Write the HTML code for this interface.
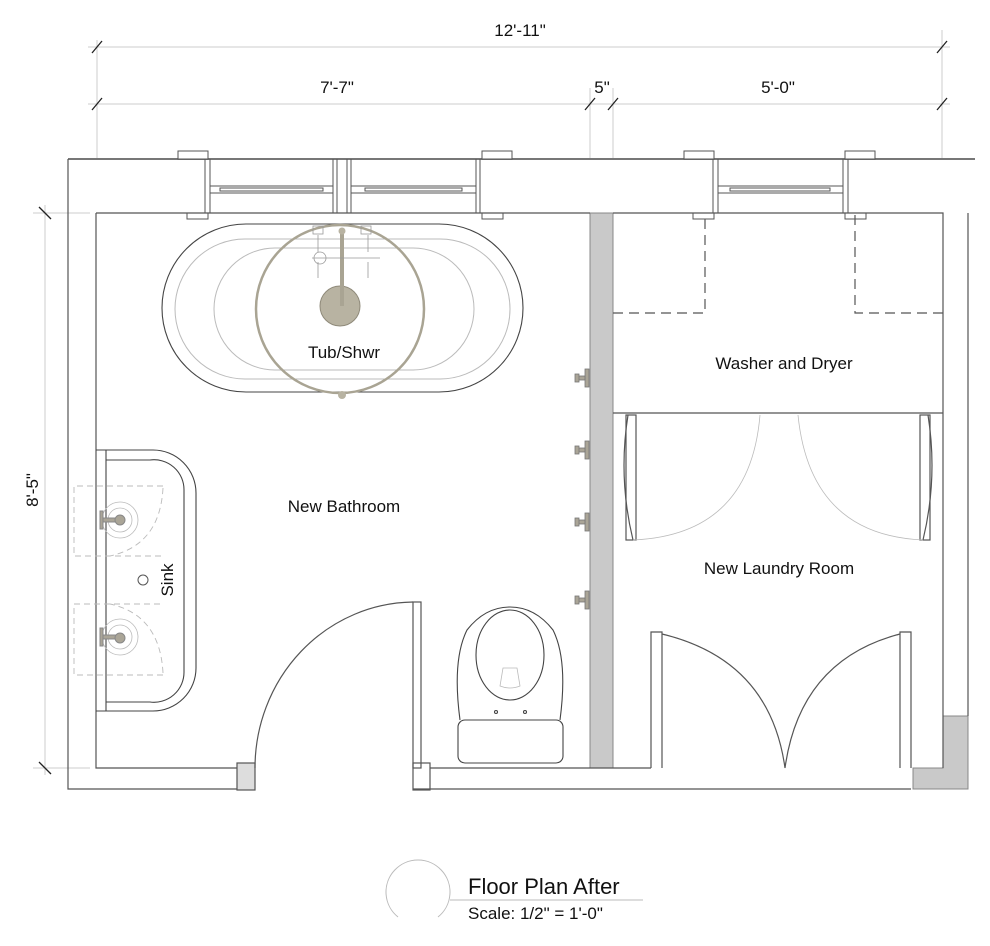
<!DOCTYPE html>
<html><head><meta charset="utf-8"><style>html,body{margin:0;padding:0;background:#fff}svg{display:block}text{font-family:"Liberation Sans",sans-serif;fill:#111}</style></head>
<body>
<svg width="990" height="946" viewBox="0 0 990 946" xmlns="http://www.w3.org/2000/svg">
<g fill="none" stroke-linecap="butt">
<!-- dimension lines -->
<g stroke="#ccc" stroke-width="1">
<line x1="97" y1="40" x2="97" y2="160"/><line x1="942" y1="30" x2="942" y2="160"/>
<line x1="590" y1="88" x2="590" y2="160"/><line x1="613" y1="88" x2="613" y2="160"/>
<line x1="88" y1="47" x2="950" y2="47"/><line x1="88" y1="104" x2="950" y2="104"/>
<line x1="45" y1="205" x2="45" y2="775"/>
<line x1="33" y1="213" x2="90" y2="213"/><line x1="33" y1="768" x2="90" y2="768"/>
</g>
<g stroke="#222" stroke-width="1.3">
<line x1="92" y1="53" x2="102" y2="41"/><line x1="937" y1="53" x2="947" y2="41"/>
<line x1="92" y1="110" x2="102" y2="98"/><line x1="585" y1="110" x2="595" y2="98"/>
<line x1="608" y1="110" x2="618" y2="98"/><line x1="937" y1="110" x2="947" y2="98"/>
<line x1="39" y1="207" x2="51" y2="219"/><line x1="39" y1="762" x2="51" y2="774"/>
</g>
<!-- walls -->
<rect x="590" y="213" width="23" height="555" fill="#c9c9c9" stroke="#888" stroke-width="1"/>
<path d="M943 716 H968 V789 H913 V768 H943 Z" fill="#c9c9c9" stroke="#888" stroke-width="1"/>
<g stroke="#555" stroke-width="1.2">
<line x1="68" y1="159" x2="975" y2="159" stroke="#777" stroke-width="2"/>
<path d="M68 159 V789 H255"/>
<path d="M413 789 H911"/>
<path d="M96 213 H590 M613 213 H943 V768"/>
<path d="M96 213 V768 H245"/>
<path d="M430 768 H651"/>
<line x1="968" y1="213" x2="968" y2="716"/>
<rect x="237" y="763" width="18" height="27" fill="#ddd"/>
<rect x="413" y="602" width="8" height="166" fill="#fff"/>
<rect x="413" y="763" width="17" height="27"/>
<path d="M413 602 A160 166 0 0 0 255 768"/>
<!-- laundry -->
<path d="M613 313 H705 V213" stroke-dasharray="10 6"/>
<path d="M943 313 H855 V213" stroke-dasharray="10 6"/>
<line x1="613" y1="413" x2="943" y2="413"/>
<rect x="626" y="415" width="10" height="125"/>
<rect x="920" y="415" width="10" height="125"/>
<path d="M628 415 Q618 478 633 540" />
<path d="M928 415 Q938 478 923 540"/>
<path d="M651 768 V632 H662 V768 M911 768 V632 H900 V768"/>
<path d="M662 634 Q770 660 785 768 M900 634 Q800 660 785 768"/>
</g>
<g stroke="#bbb" stroke-width="0.8">
<path d="M633 540 Q750 535 760 415"/><path d="M923 540 Q810 535 798 415"/>
</g>
<!-- windows -->
<g stroke="#555" stroke-width="1">
<rect x="178" y="151" width="30" height="8" fill="#fff"/><rect x="482" y="151" width="30" height="8" fill="#fff"/>
<rect x="684" y="151" width="30" height="8" fill="#fff"/><rect x="845" y="151" width="30" height="8" fill="#fff"/>
<rect x="187" y="213" width="21" height="6"/><rect x="482" y="213" width="21" height="6"/>
<rect x="693" y="213" width="21" height="6"/><rect x="845" y="213" width="21" height="6"/>
<path d="M205 159 V213 M210 159 V213 M333 159 V213 M337 159 V213 M347 159 V213 M351 159 V213 M476 159 V213 M480 159 V213"/>
<path d="M713 159 V213 M718 159 V213 M843 159 V213 M848 159 V213"/>
<rect x="210" y="186" width="123" height="7"/><rect x="220" y="188" width="103" height="3"/>
<rect x="351" y="186" width="125" height="7"/><rect x="365" y="188" width="97" height="3"/>
<rect x="718" y="186" width="125" height="7"/><rect x="730" y="188" width="100" height="3"/>
</g>
<!-- tub -->
<rect x="162" y="224" width="361" height="168" rx="84" stroke="#444" stroke-width="1.1"/>
<rect x="175" y="239" width="335" height="140" rx="70" stroke="#bbb" stroke-width="1"/>
<rect x="214" y="248" width="260" height="122" rx="61" stroke="#bbb" stroke-width="1"/>
<circle cx="340" cy="309" r="84" stroke="#a9a493" stroke-width="2.5"/>
<circle cx="340" cy="306" r="20" fill="#b8b3a2" stroke="#8f8a7a"/>
<line x1="342" y1="232" x2="342" y2="306" stroke="#a9a493" stroke-width="4"/>
<circle cx="342" cy="231" r="3.5" fill="#b8b3a2"/><circle cx="342" cy="395" r="4" fill="#b8b3a2"/>
<g stroke="#999" stroke-width="0.8">
<circle cx="320" cy="258" r="6"/><path d="M312 258 H380 M318 262 V278 M368 262 V278 M318 235 V252 M368 235 V252"/>
<rect x="313" y="226" width="10" height="8"/><rect x="361" y="226" width="10" height="8"/>
</g>
<!-- sink -->
<g stroke="#444" stroke-width="1.1">
<path d="M96 450 H153 A43 43 0 0 1 196 493 V668 A43 43 0 0 1 153 711 H96"/>
<path d="M106 450 V711"/>
<path d="M106 460 H150 A30 30 0 0 1 184 490 V672 A30 30 0 0 1 150 702 H106"/>
</g>
<g stroke="#bbb" stroke-width="0.9" stroke-dasharray="6 4">
<path d="M163 486 H74 V556 H163 M163 488 Q160 545 110 556"/>
<path d="M163 675 H74 V604 H163 M163 673 Q160 615 110 604"/>
</g>
<g stroke="#bbb" stroke-width="0.8"><circle cx="120" cy="520" r="18"/><circle cx="120" cy="520" r="12"/><circle cx="120" cy="637" r="18"/><circle cx="120" cy="637" r="12"/></g>
<g fill="#aaa597" stroke="#888"><rect x="100" y="511" width="3" height="18"/><rect x="103" y="518" width="14" height="4"/><circle cx="120" cy="520" r="5"/>
<rect x="100" y="628" width="3" height="18"/><rect x="103" y="635" width="14" height="4"/><circle cx="120" cy="638" r="5"/></g>
<circle cx="143" cy="580" r="5" stroke="#555"/>
<!-- hooks -->
<g fill="#aaa597" stroke="#777" stroke-width="0.8">
<rect x="585" y="369" width="4" height="18"/><rect x="578" y="376" width="7" height="4"/><rect x="575" y="374" width="4" height="8"/>
<rect x="585" y="441" width="4" height="18"/><rect x="578" y="448" width="7" height="4"/><rect x="575" y="446" width="4" height="8"/>
<rect x="585" y="513" width="4" height="18"/><rect x="578" y="520" width="7" height="4"/><rect x="575" y="518" width="4" height="8"/>
<rect x="585" y="591" width="4" height="18"/><rect x="578" y="598" width="7" height="4"/><rect x="575" y="596" width="4" height="8"/>
</g>
<!-- toilet -->
<g stroke="#444" stroke-width="1.1">
<path d="M460 720 Q452 660 467 630 Q485 607 510 607 Q535 607 553 630 Q568 660 560 720" fill="#fff"/>
<ellipse cx="510" cy="655" rx="34" ry="45"/>
<rect x="458" y="720" width="105" height="43" rx="7" fill="#fff"/>
<circle cx="496" cy="712" r="1.5"/><circle cx="525" cy="712" r="1.5"/>
</g>
<path d="M503 668 H517 L520 686 Q510 690 500 686 Z" stroke="#bbb" stroke-width="0.8"/>
<!-- title -->
<path d="M398 917 A32 32 0 1 1 438 917" stroke="#bbb" stroke-width="1"/>
<line x1="450" y1="900" x2="643" y2="900" stroke="#bbb"/>
</g>
<text x="520" y="36" font-size="17" text-anchor="middle">12'-11"</text>
<text x="337" y="93" font-size="17" text-anchor="middle">7'-7"</text>
<text x="602" y="93" font-size="17" text-anchor="middle">5"</text>
<text x="778" y="93" font-size="17" text-anchor="middle">5'-0"</text>
<text transform="translate(38,490) rotate(-90)" font-size="17" text-anchor="middle">8'-5"</text>
<text x="344" y="358" font-size="17" text-anchor="middle">Tub/Shwr</text>
<text x="344" y="512" font-size="17" text-anchor="middle">New Bathroom</text>
<text x="784" y="369" font-size="17" text-anchor="middle">Washer and Dryer</text>
<text x="779" y="574" font-size="17" text-anchor="middle">New Laundry Room</text>
<text transform="translate(173,580) rotate(-90)" font-size="17" text-anchor="middle">Sink</text>
<text x="468" y="894" font-size="22">Floor Plan After</text>
<text x="468" y="919" font-size="17">Scale: 1/2" = 1'-0"</text>
</svg>
</body></html>
